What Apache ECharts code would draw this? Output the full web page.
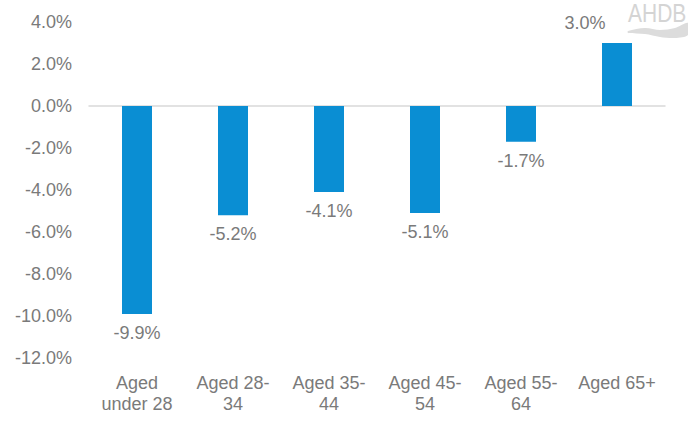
<!DOCTYPE html>
<html>
<head>
<meta charset="utf-8">
<script src="https://cdn.jsdelivr.net/npm/echarts@6/dist/echarts.min.js"></script>
<style>
  html, body { margin: 0; padding: 0; background: #fff; }
  #chart { width: 688px; height: 428px; }
</style>
</head>
<body>
<div id="chart"></div>
<script>
var categories = ['Aged\nunder 28', 'Aged 28-\n34', 'Aged 35-\n44', 'Aged 45-\n54', 'Aged 55-\n64', 'Aged 65+'];
var changes = [-9.9, -5.2, -4.1, -5.1, -1.7, 3.0];
var yMin = -12, yMax = 4, yStep = 2;

var chart = echarts.init(document.getElementById('chart'), null, { renderer: 'svg' });
var font = '"Liberation Sans", Arial, sans-serif';
var grey = '#7a7a7a';

chart.setOption({
  animation: false,
  grid: { left: 89, right: 23, top: 22, bottom: 70 },
  xAxis: [
    {
      // zero line
      type: 'category',
      data: categories,
      axisLine: { onZero: true, lineStyle: { color: '#d9d9d9', width: 1.5 } },
      axisTick: { show: false },
      axisLabel: { show: false }
    },
    {
      // category labels under the plot
      type: 'category',
      data: categories,
      position: 'bottom',
      axisLine: { show: false, onZero: false },
      axisTick: { show: false },
      axisLabel: {
        color: grey, fontSize: 18, fontFamily: font, lineHeight: 21,
        margin: 14, interval: 0
      }
    }
  ],
  yAxis: {
    type: 'value',
    min: yMin,
    max: yMax,
    interval: yStep,
    axisLine: { show: false },
    axisTick: { show: false },
    splitLine: { show: false },
    axisLabel: {
      color: grey, fontSize: 18, fontFamily: font, margin: 17,
      formatter: function(v) { return v.toFixed(1) + '%'; }
    }
  },
  series: [
    {
      type: 'bar',
      xAxisIndex: 0,
      barWidth: 30,
      itemStyle: { color: '#0a8ed3' },
      data: changes.map(function(v) {
        // the positive label sits left of its bar, clear of the logo
        return {
          value: v,
          label: v < 0
            ? { position: 'bottom', distance: 10 }
            : { position: 'top', distance: 11, offset: [-32, 0] }
        };
      }),
      label: {
        show: true,
        color: grey,
        fontSize: 18,
        fontFamily: font,
        formatter: function(p) { return p.value.toFixed(1) + '%'; }
      }
    }
  ],
  graphic: [
    {
      type: 'text',
      x: 628,
      y: 13,
      scaleY: 1.2,
      style: {
        text: 'AHDB',
        fill: '#d4d4d4',
        verticalAlign: 'middle',
        font: '21px "Liberation Sans", Arial, sans-serif',
        lineHeight: 21
      }
    },
    {
      type: 'polygon',
      shape: {
        points: [[628, 31], [645, 28], [660, 30], [675, 28], [688, 23], [688, 35], [675, 38], [660, 37], [645, 34], [628, 33]],
        smooth: 0.3
      },
      style: { fill: '#dcdcdc' }
    }
  ]
});
</script>
</body>
</html>
